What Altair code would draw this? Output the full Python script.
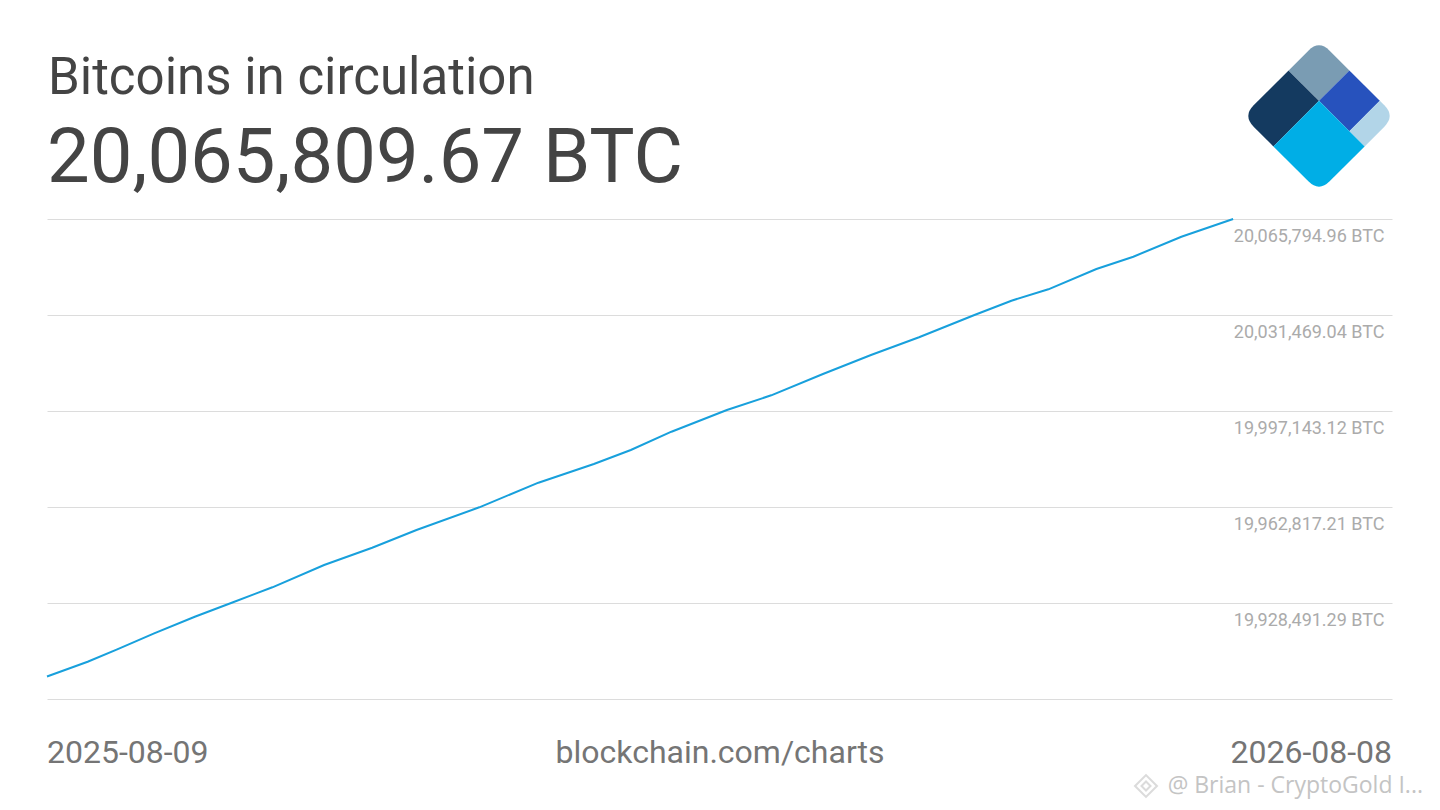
import altair as alt
import pandas as pd

# values
dates = [
    "2025-08-09", "2025-08-20", "2025-08-28", "2025-09-07", "2025-09-18",
    "2025-09-28", "2025-10-09", "2025-10-23", "2025-11-05", "2025-11-17",
    "2025-12-04", "2025-12-20", "2026-01-04", "2026-01-14", "2026-01-25",
    "2026-02-09", "2026-02-21", "2026-03-07", "2026-03-20", "2026-04-02",
    "2026-04-17", "2026-04-27", "2026-05-07", "2026-05-20", "2026-05-30",
    "2026-06-12", "2026-06-26",
]
supply = [
    19902210, 19907502, 19911936, 19917657, 19923592,
    19928598, 19934105, 19942078, 19948264, 19954593,
    19962709, 19971506, 19978192, 19983198, 19989741,
    19997500, 20002757, 20010373, 20017166, 20023495,
    20031469, 20036582, 20040658, 20047917, 20052315,
    20059465, 20065809.67,
]
y_ticks = [19894165.37, 19928491.29, 19962817.21, 19997143.12, 20031469.04, 20065794.96]
x_start, x_end = "2025-08-09", "2026-08-08"

title = "Bitcoins in circulation"
headline = "20,065,809.67 BTC"
source = "blockchain.com/charts"
watermark = "@ Brian - CryptoGold I..."

W, H = 1345, 480
FONT = "Roboto"

df = pd.DataFrame({"date": dates, "supply": supply})

y_scale = alt.Scale(domain=[y_ticks[0], y_ticks[-1]], nice=False, zero=False)
x_scale = alt.Scale(type="utc", domain=[x_start, x_end])

line = alt.Chart(df).mark_line(color="#18a0dc", strokeWidth=2).encode(
    x=alt.X("date:T", scale=x_scale, axis=None),
    y=alt.Y(
        "supply:Q",
        scale=y_scale,
        axis=alt.Axis(
            orient="right", values=y_ticks, title=None, domain=False, ticks=False,
            grid=True, gridColor="#dcdcdc", gridWidth=1,
            labelAlign="right", labelBaseline="top", labelPadding=-8, labelOffset=8,
            labelFont=FONT, labelFontSize=18, labelColor="#ababab",
            labelExpr="datum.value < 19900000 ? '' : format(datum.value, ',.2f') + ' BTC'",
        ),
    ),
)


def text_layer(txt, x, y, size, color, align="left", font=FONT):
    return alt.Chart(pd.DataFrame({"t": [txt]})).mark_text(
        align=align, baseline="alphabetic", font=font, fontSize=size, color=color
    ).encode(x=alt.value(x), y=alt.value(y), text="t:N")


texts = [
    text_layer(title, 1, -125, 51, "#444444"),
    text_layer(headline, 0, -37, 76, "#444444"),
    text_layer(dates[0], 0, 544, 32, "#757575"),
    text_layer(source, 673, 544, 32, "#757575", align="center"),
    text_layer(x_end, W, 544, 32, "#757575", align="right"),
    text_layer(watermark, 1376, 574, 23, "#c4c4c4", align="right", font="Open Sans"),
]


# blockchain.com style logo: a rotated square cut into five rectangles
def piece_path(u0, u1, w0, w1, r=0.14):
    outer = {(0, 0), (1, 0), (1, 1), (0, 1)}
    pts = [(u0, w0), (u1, w0), (u1, w1), (u0, w1)]

    def xy(u, w):
        return f"{-1 + u + w:.3f},{w - u:.3f}"

    def toward(p, q):
        d = abs(q[0] - p[0]) + abs(q[1] - p[1])
        return (p[0] + (q[0] - p[0]) * r / d, p[1] + (q[1] - p[1]) * r / d)

    cmds = []
    for i, p in enumerate(pts):
        if p in outer:
            a = toward(p, pts[i - 1])
            b = toward(p, pts[(i + 1) % 4])
            cmds.append(("L" if cmds else "M") + xy(*a))
            cmds.append("Q" + xy(*p) + " " + xy(*b))
        else:
            cmds.append(("L" if cmds else "M") + xy(*p))
    return " ".join(cmds) + " Z"


logo = pd.DataFrame({
    "shape": [
        piece_path(0, 0.6, 0, 0.4),
        piece_path(0.6, 1, 0, 0.4),
        piece_path(0.6, 1, 0.4, 0.8),
        piece_path(0.6, 1, 0.8, 1),
        piece_path(0, 0.6, 0.4, 1),
    ],
    "fill": ["#143a60", "#7a9cb3", "#2752bd", "#b2d5e8", "#00aee6"],
})

logo_layer = alt.Chart(logo).mark_point(filled=True, size=23104, opacity=1, strokeWidth=0).encode(
    x=alt.value(1272),
    y=alt.value(-103),
    shape=alt.Shape("shape:N", scale=None),
    color=alt.Color("fill:N", scale=None),
)

wm_icon = alt.Chart(pd.DataFrame({"s": [480, 80]})).mark_point(
    shape="diamond", filled=False, color="#cccccc", strokeWidth=2
).encode(x=alt.value(1099), y=alt.value(567), size=alt.Size("s:Q", scale=None))

chart = alt.layer(line, *texts, logo_layer, wm_icon).properties(
    width=W,
    height=H,
    autosize=alt.AutoSizeParams(type="none"),
    padding={"left": 39, "top": 211, "right": 40, "bottom": 103},
    background="white",
).configure_view(strokeWidth=0)

chart.save("out.html", embed_options={"renderer": "svg", "actions": False})
